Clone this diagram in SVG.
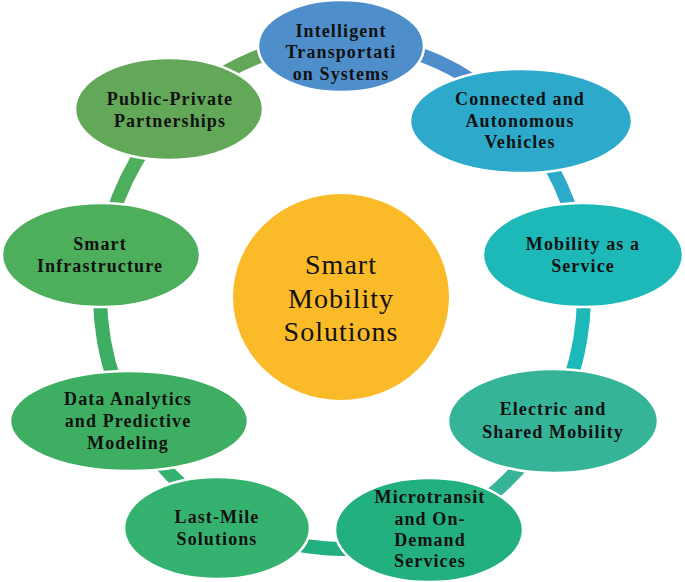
<svg xmlns="http://www.w3.org/2000/svg" width="685" height="582" viewBox="0 0 685 582">
<style>
.ring{fill:none;stroke-width:14}
.node{stroke:#ffffff;stroke-width:2.5}
.lbl{font-family:"Liberation Serif","Times New Roman",serif;font-weight:bold;font-size:18px;letter-spacing:1.1px;fill:#111111;text-anchor:middle}
.ctr{font-family:"Liberation Serif","Times New Roman",serif;font-size:28px;letter-spacing:1px;fill:#111111;text-anchor:middle}
</style>
<rect width="685" height="582" fill="#ffffff"/>
<g id="connectors">
<path class="ring" stroke="#4E8FCB" d="M342,41 A242,254 0 0 1 519.6,122.4"/>
<path class="ring" stroke="#2DAACB" d="M519.6,122.4 A242,254 0 0 1 581,255.3"/>
<path class="ring" stroke="#1DB9B9" d="M581,255.3 A242,254 0 0 1 552.4,420.5"/>
<path class="ring" stroke="#36B498" d="M552.4,420.5 A242,254 0 0 1 429.9,531.6"/>
<path class="ring" stroke="#21B07E" d="M429.9,531.6 A242,254 0 0 1 223.2,516.3"/>
<path class="ring" stroke="#36B270" d="M223.2,516.3 A242,254 0 0 1 131.6,420.5"/>
<path class="ring" stroke="#3EAF62" d="M131.6,420.5 A242,254 0 0 1 103,255.3"/>
<path class="ring" stroke="#4DAF5C" d="M103,255.3 A242,254 0 0 1 173,113.2"/>
<path class="ring" stroke="#63A858" d="M173,113.2 A242,254 0 0 1 342,41"/>
</g>
<g id="center">
<ellipse cx="341" cy="297" rx="108" ry="103" fill="#FBBA28"/>
<text class="ctr" x="341" y="274">Smart</text>
<text class="ctr" x="341" y="308">Mobility</text>
<text class="ctr" x="341" y="341">Solutions</text>
</g>
<g id="n1">
<ellipse class="node" cx="341" cy="46" rx="83" ry="46" fill="#4E8FCB"/>
<text class="lbl" x="341" y="37">Intelligent</text>
<text class="lbl" x="341" y="58">Transportati</text>
<text class="lbl" x="341" y="80">on Systems</text>
</g>
<g id="n2">
<ellipse class="node" cx="521" cy="121" rx="111" ry="52" fill="#2DAACB"/>
<text class="lbl" x="520" y="105">Connected and</text>
<text class="lbl" x="520" y="127">Autonomous</text>
<text class="lbl" x="520" y="148">Vehicles</text>
</g>
<g id="n3">
<ellipse class="node" cx="583" cy="255" rx="100" ry="52" fill="#1DB9B9"/>
<text class="lbl" x="583" y="250">Mobility as a</text>
<text class="lbl" x="583" y="272">Service</text>
</g>
<g id="n4">
<ellipse class="node" cx="553" cy="421" rx="105" ry="52" fill="#36B498"/>
<text class="lbl" x="553" y="415">Electric and</text>
<text class="lbl" x="553" y="438">Shared Mobility</text>
</g>
<g id="n5">
<ellipse class="node" cx="429" cy="530" rx="94" ry="52" fill="#21B07E"/>
<text class="lbl" x="430" y="503">Microtransit</text>
<text class="lbl" x="430" y="525">and On-</text>
<text class="lbl" x="430" y="546">Demand</text>
<text class="lbl" x="430" y="567">Services</text>
</g>
<g id="n6">
<ellipse class="node" cx="217" cy="528" rx="93" ry="51" fill="#36B270"/>
<text class="lbl" x="217" y="523">Last-Mile</text>
<text class="lbl" x="217" y="545">Solutions</text>
</g>
<g id="n7">
<ellipse class="node" cx="129" cy="421" rx="119" ry="50" fill="#3EAF62"/>
<text class="lbl" x="128" y="405">Data Analytics</text>
<text class="lbl" x="128" y="427">and Predictive</text>
<text class="lbl" x="128" y="449">Modeling</text>
</g>
<g id="n8">
<ellipse class="node" cx="101" cy="255" rx="99" ry="52" fill="#4DAF5C"/>
<text class="lbl" x="100" y="250">Smart</text>
<text class="lbl" x="100" y="272">Infrastructure</text>
</g>
<g id="n9">
<ellipse class="node" cx="169" cy="109" rx="94" ry="51" fill="#63A858"/>
<text class="lbl" x="170" y="105">Public-Private</text>
<text class="lbl" x="170" y="127">Partnerships</text>
</g>
</svg>
